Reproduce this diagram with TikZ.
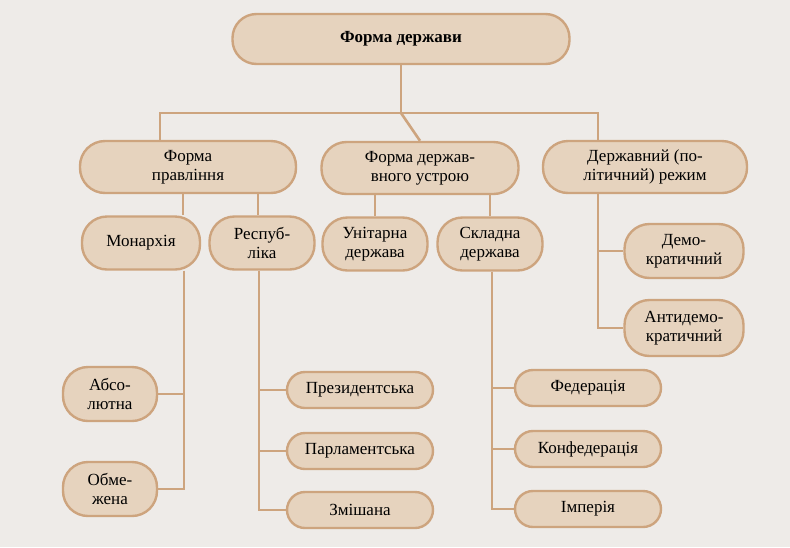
\documentclass[tikz,border=0pt]{standalone}
\usepackage{fontspec}
\setmainfont{Liberation Serif}
\begin{document}
\begin{tikzpicture}[x=1pt,y=-1pt,
  bx/.style={draw=bord,fill=boxf,line width=2.4pt,rounded corners=18pt,align=center,font=\fontsize{17}{19}\selectfont,inner sep=0pt},
  ln/.style={draw=bord,line width=2.6pt}]
\definecolor{bg}{HTML}{EEEBE8}
\definecolor{boxf}{HTML}{E6D3BE}
\definecolor{bord}{HTML}{CDA47E}
\fill[bg] (0,0) rectangle (790,547);
\useasboundingbox (0,0) rectangle (790,547);
\node[bx,minimum width=337pt,minimum height=50pt,rounded corners=24pt,font=\bfseries\fontsize{17}{19}\selectfont] (root) at (401,39) {Форма держави};
\node[bx,minimum width=216pt,minimum height=52pt,rounded corners=25pt] (fp) at (188,167) {Форма\\правління};
\node[bx,minimum width=197pt,minimum height=52pt,rounded corners=25pt] (fu) at (420,168) {Форма держав-\\вного устрою};
\node[bx,minimum width=204pt,minimum height=52pt,rounded corners=25pt] (fr) at (645,167) {Державний (по-\\літичний) режим};
\node[bx,minimum width=118pt,minimum height=53pt,rounded corners=25pt] (mon) at (141,243) {Монархія};
\node[bx,minimum width=105pt,minimum height=53pt,rounded corners=25pt] (res) at (262,243) {Респуб-\\ліка};
\node[bx,minimum width=105pt,minimum height=53pt,rounded corners=25pt] (uni) at (375,244) {Унітарна\\держава};
\node[bx,minimum width=105pt,minimum height=53pt,rounded corners=25pt] (skl) at (490,244) {Складна\\держава};
\node[bx,minimum width=119pt,minimum height=54pt,rounded corners=25pt] (dem) at (684,251) {Демо-\\кратичний};
\node[bx,minimum width=119pt,minimum height=56pt,rounded corners=25pt] (ant) at (684,328) {Антидемо-\\кратичний};
\node[bx,minimum width=94pt,minimum height=54pt,rounded corners=25pt] (abs) at (110,394) {Абсо-\\лютна};
\node[bx,minimum width=94pt,minimum height=54pt,rounded corners=25pt] (obm) at (110,489) {Обме-\\жена};
\node[bx,minimum width=146pt,minimum height=36pt] (pre) at (360,390) {Президентська};
\node[bx,minimum width=146pt,minimum height=36pt] (par) at (360,451) {Парламентська};
\node[bx,minimum width=146pt,minimum height=36pt] (zm) at (360,510) {Змішана};
\node[bx,minimum width=146pt,minimum height=36pt] (fed) at (588,388) {Федерація};
\node[bx,minimum width=146pt,minimum height=36pt] (kon) at (588,449) {Конфедерація};
\node[bx,minimum width=146pt,minimum height=36pt] (imp) at (588,509) {Імперія};
\coordinate (h) at (401,113);
\begin{scope}[on background layer/.try]
\end{scope}
\draw[ln] (root.south) -- (h);
\draw[ln] (fp.north -| 160,0) |- (h) -| (fr.north -| 598,0);
\draw[ln] (h) -- (fu.north);
\draw[ln] (fp.south -| 183,0) -- (mon.north -| 183,0);
\draw[ln] (fp.south -| 258,0) -- (res.north -| 258,0);
\draw[ln] (fu.south -| 375,0) -- (uni.north -| 375,0);
\draw[ln] (fu.south -| 490,0) -- (skl.north -| 490,0);
\draw[ln] (mon.south -| 184,0) |- (obm.east);
\draw[ln] (abs.east) -- (abs.east -| 184,0);
\draw[ln] (res.south -| 259,0) |- (zm.west);
\draw[ln] (pre.west) -- (pre.west -| 259,0);
\draw[ln] (par.west) -- (par.west -| 259,0);
\draw[ln] (skl.south -| 492,0) |- (imp.west);
\draw[ln] (fed.west) -- (fed.west -| 492,0);
\draw[ln] (kon.west) -- (kon.west -| 492,0);
\draw[ln] (fr.south -| 598,0) |- (ant.west);
\draw[ln] (dem.west) -- (dem.west -| 598,0);
\end{tikzpicture}
\end{document}
